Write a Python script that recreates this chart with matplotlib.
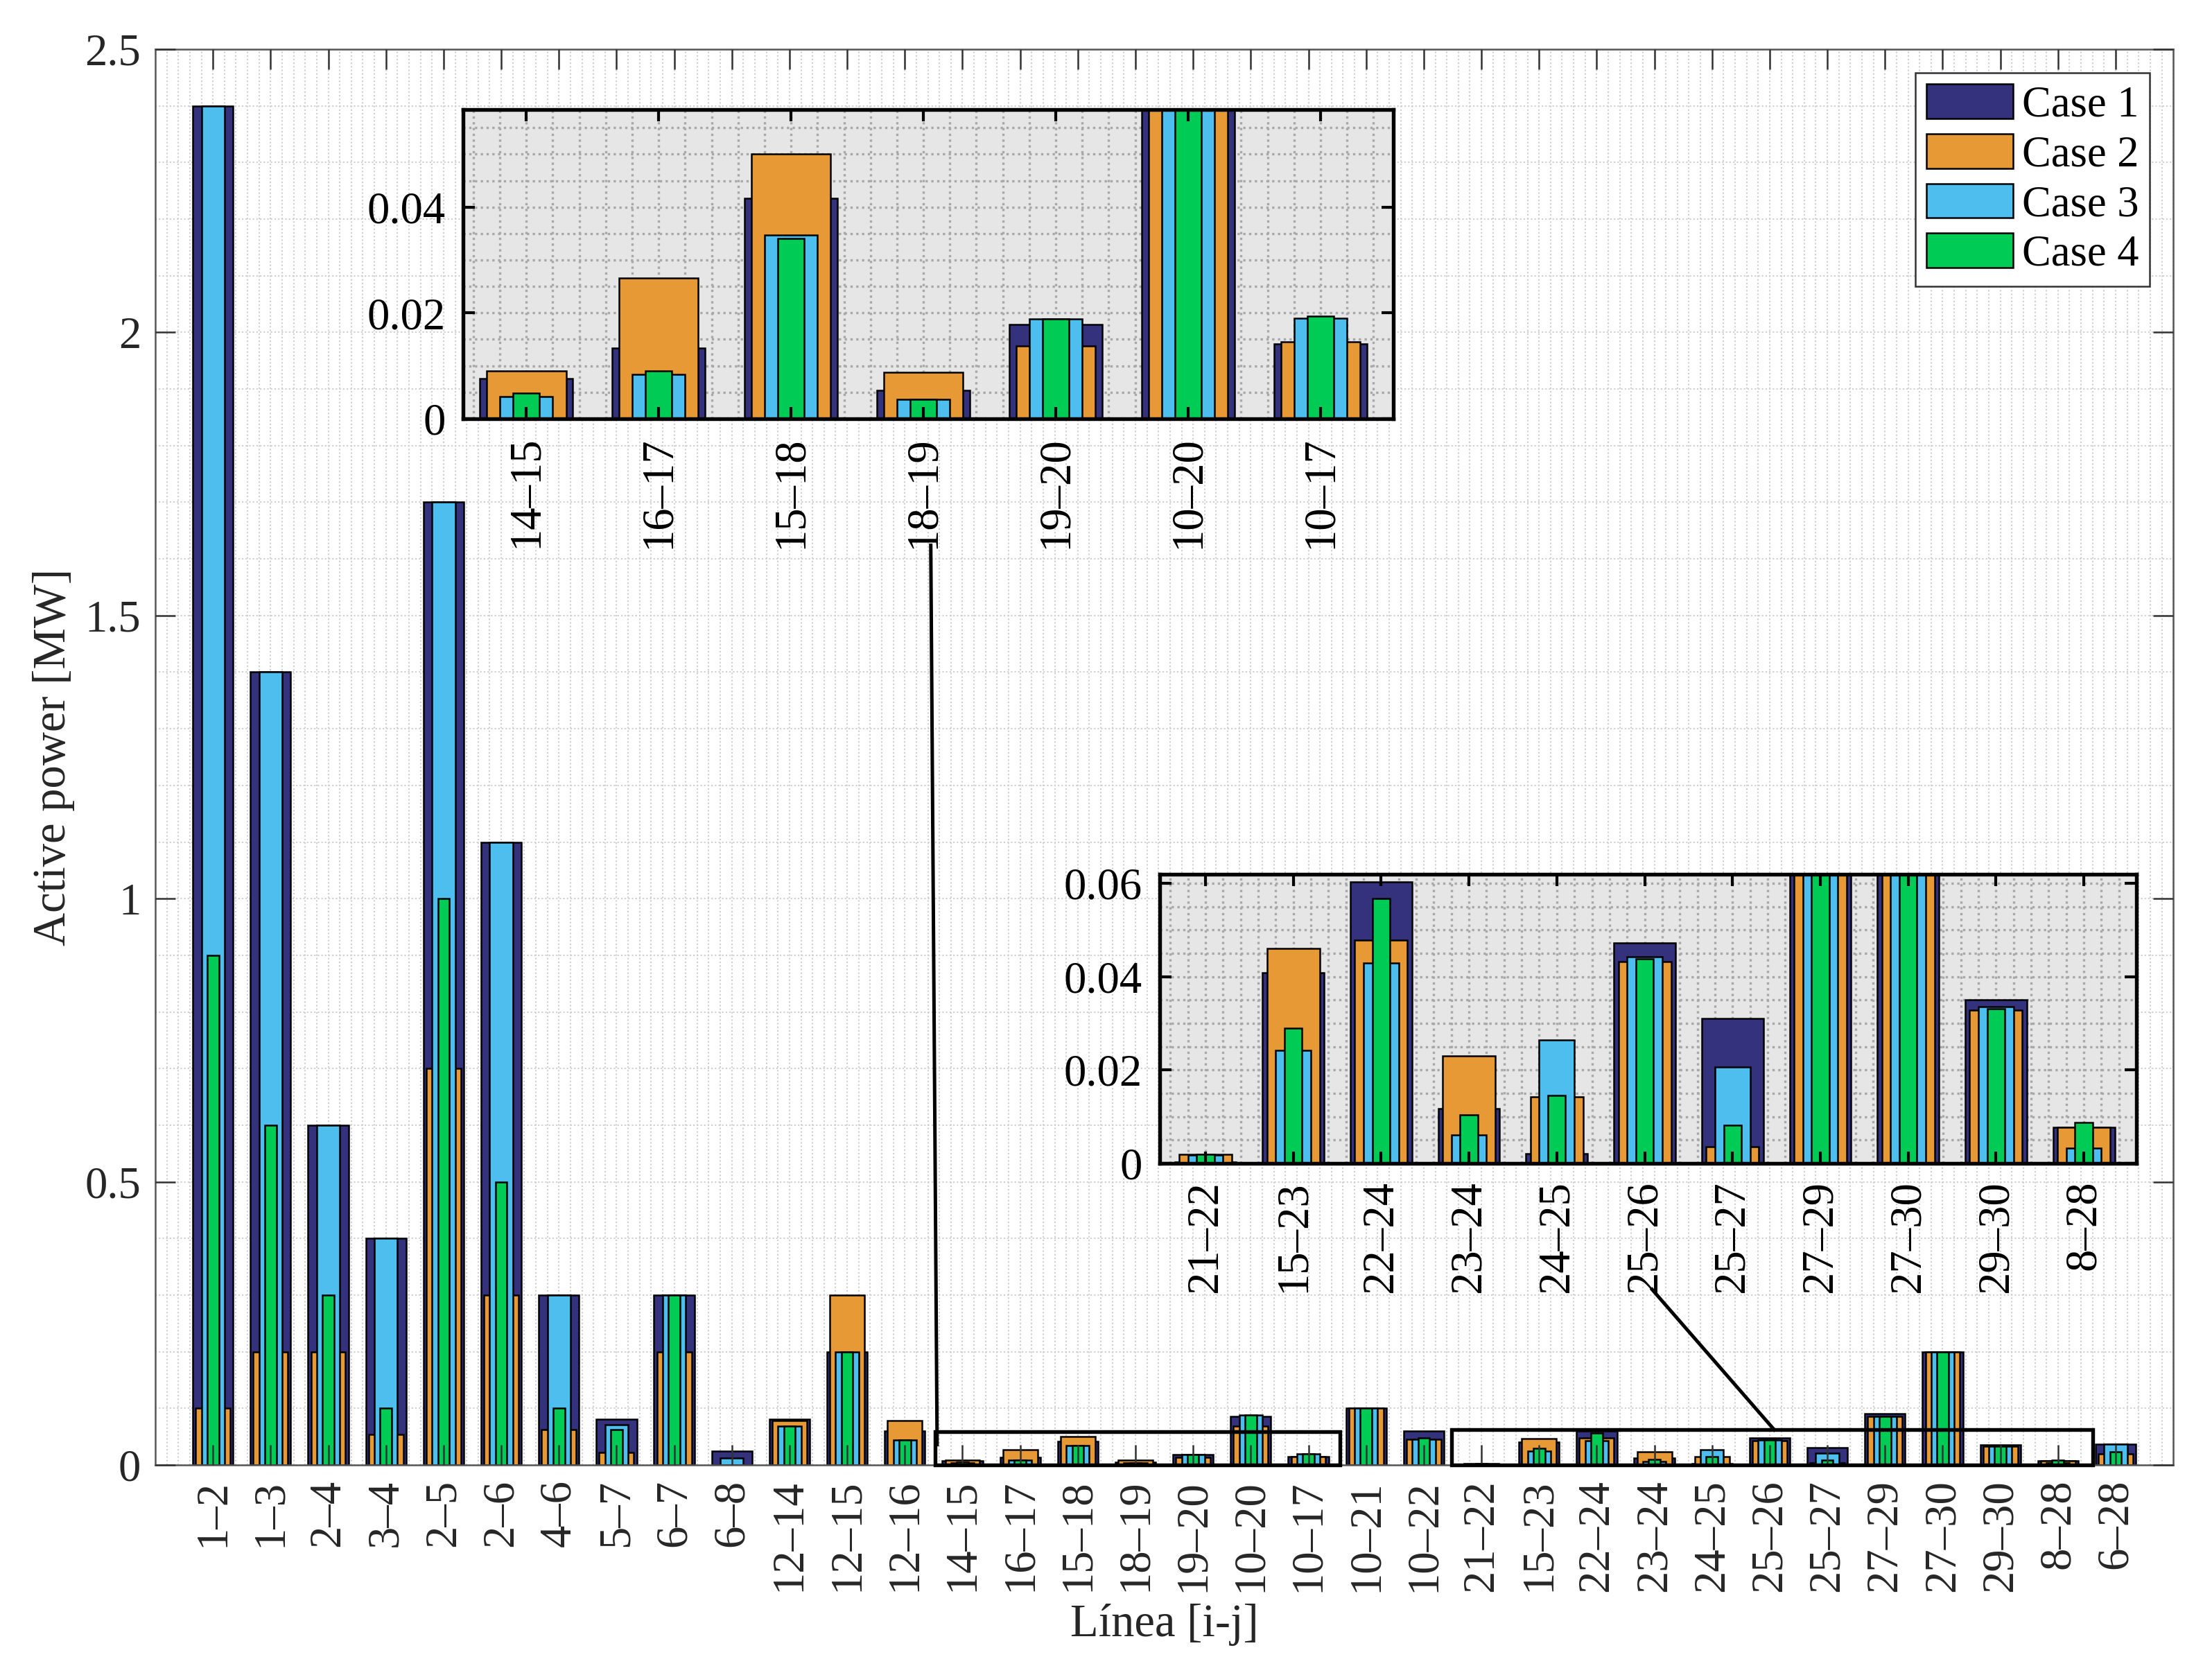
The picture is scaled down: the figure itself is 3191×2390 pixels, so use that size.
import numpy as np
import matplotlib.pyplot as plt
from matplotlib.patches import Rectangle
from matplotlib.ticker import FormatStrFormatter

plt.rcParams['font.family'] = ['Liberation Serif', 'DejaVu Serif']

# line labels (i-j)
lines = ['1–2', '1–3', '2–4', '3–4', '2–5', '2–6', '4–6', '5–7', '6–7', '6–8',
         '12–14', '12–15', '12–16', '14–15', '16–17', '15–18', '18–19', '19–20',
         '10–20', '10–17', '10–21', '10–22', '21–22', '15–23', '22–24', '23–24',
         '24–25', '25–26', '25–27', '27–29', '27–30', '29–30', '8–28', '6–28']

# active power per line [MW]
case1 = [2.4, 1.4, 0.6, 0.4, 1.7, 1.1, 0.3, 0.081, 0.3, 0.0245,
         0.081, 0.2, 0.06, 0.0076, 0.0134, 0.0417, 0.0054, 0.0178,
         0.0857, 0.0141, 0.1, 0.060, 0.0002, 0.0408, 0.0603, 0.0117,
         0.0021, 0.0472, 0.0311, 0.09, 0.2, 0.0351, 0.0077, 0.0367]
case2 = [0.1, 0.2, 0.2, 0.054, 0.7, 0.3, 0.063, 0.022, 0.2, 0.0,
         0.078, 0.3, 0.078, 0.009, 0.0266, 0.0501, 0.0088, 0.0138,
         0.068, 0.0145, 0.1, 0.0457, 0.0019, 0.046, 0.0479, 0.023,
         0.0143, 0.0433, 0.0036, 0.0857, 0.2, 0.0328, 0.0077, 0.0196]
case3 = [2.4, 1.4, 0.6, 0.4, 1.7, 1.1, 0.3, 0.071, 0.3, 0.012,
         0.069, 0.2, 0.044, 0.0042, 0.0084, 0.0347, 0.0037, 0.0188,
         0.088, 0.019, 0.1, 0.0457, 0.0017, 0.0242, 0.0429, 0.0061,
         0.0264, 0.0443, 0.0206, 0.086, 0.2, 0.0336, 0.0032, 0.0367]
case4 = [0.9, 0.6, 0.3, 0.1, 1.0, 0.5, 0.1, 0.063, 0.3, 0.0,
         0.069, 0.2, 0.044, 0.0048, 0.0091, 0.0341, 0.0037, 0.0188,
         0.088, 0.0194, 0.1, 0.048, 0.0019, 0.029, 0.0568, 0.0103,
         0.0145, 0.0438, 0.0081, 0.086, 0.2, 0.0331, 0.0087, 0.0229]

case_names = ['Case 1', 'Case 2', 'Case 3', 'Case 4']
case_colors = ['#34317D', '#E69935', '#4DBEEE', '#00CC55']
bar_widths = [0.7, 0.6, 0.4, 0.2]

# zoom windows shown in the insets
zoom_a_xlim = (13.52, 20.55)
zoom_a_ylim = (0, 0.0585)
zoom_b_xlim = (22.48, 33.6)
zoom_b_ylim = (0, 0.062)

# connector lines (main-axes data coords)
link_a = ([13.45, 13.56], [1.624, 0.036])
link_b = ([25.96, 28.08], [0.31, 0.062])

x = np.arange(1, len(lines) + 1)
all_cases = [case1, case2, case3, case4]


def draw_bars(ax, lw):
    for vals, c, w, name in zip(all_cases, case_colors, bar_widths, case_names):
        ax.bar(x, vals, width=w, color=c, edgecolor='black', linewidth=lw,
               label=name, zorder=1)


def grid_lines(ax, xlim, ylim, xstep, ystep, color, lw):
    for gx in np.arange(np.ceil(xlim[0] / xstep) * xstep, xlim[1] + 1e-9, xstep):
        ax.axvline(gx, color=color, lw=lw, ls=(0, (1, 1.5)), zorder=0.5)
    for gy in np.arange(ylim[0], ylim[1] + 1e-9, ystep):
        ax.axhline(gy, color=color, lw=lw, ls=(0, (1, 1.5)), zorder=0.5)


fig = plt.figure(figsize=(3191 / 300, 2390 / 300), dpi=300)
ax = fig.add_axes([0.0702, 0.1159, 0.9123, 0.8544])

grid_lines(ax, (0, 35), (0, 2.5), 0.2, 0.1, '#CFCFCF', 0.5)
draw_bars(ax, 0.6)
ax.set_xlim(0, 35)
ax.set_ylim(0, 2.5)
ax.set_xticks(x)
ax.set_xticklabels(lines, rotation=90)
ax.set_yticks(np.arange(0, 2.51, 0.5))
ax.yaxis.set_major_formatter(FormatStrFormatter('%g'))
ax.tick_params(direction='in', top=True, right=True, length=7, width=0.6,
               color='#333333', labelsize=15.5, labelcolor='#262626', pad=5)
for s in ax.spines.values():
    s.set_color('#555555')
    s.set_linewidth(0.6)
ax.set_axisbelow(False)

ax.set_xlabel('Línea [i-j]', fontsize=16, color='#262626')
ax.xaxis.set_label_coords(0.5, -0.098)
ax.set_ylabel('Active power [MW]', fontsize=16, color='#262626')
ax.yaxis.set_label_coords(-0.04, 0.5)

leg = ax.legend(loc='upper right', fontsize=15, fancybox=False, framealpha=1,
                edgecolor='#333333', borderaxespad=0.55, handlelength=2.0,
                handleheight=0.85, handletextpad=0.2, labelspacing=0.18,
                borderpad=0.25)
leg.get_frame().set_linewidth(0.6)

# outline of the zoomed regions and connector lines
for xl, yl in [(zoom_a_xlim, zoom_a_ylim), (zoom_b_xlim, zoom_b_ylim)]:
    ax.add_patch(Rectangle((xl[0], yl[0]), xl[1] - xl[0], yl[1] - yl[0],
                           fill=False, ec='black', lw=1.3, zorder=5, clip_on=False))
for lx, ly in [link_a, link_b]:
    ax.plot(lx, ly, color='black', lw=1.2, zorder=5)


def make_inset(rect, xlim, ylim, yticks):
    axin = fig.add_axes(rect)
    axin.set_facecolor('#E6E6E6')
    grid_lines(axin, xlim, ylim, 0.2, 0.005, '#A8A8A8', 0.8)
    draw_bars(axin, 0.6)
    axin.set_xlim(*xlim)
    axin.set_ylim(*ylim)
    idx = [i for i in x if xlim[0] < i < xlim[1]]
    axin.set_xticks(idx)
    axin.set_xticklabels([lines[i - 1] for i in idx], rotation=90)
    axin.set_yticks(yticks)
    axin.yaxis.set_major_formatter(FormatStrFormatter('%g'))
    axin.tick_params(direction='in', top=True, right=True, length=4, width=1.0,
                     color='black', labelsize=15.5, labelcolor='black', pad=6)
    for s in axin.spines.values():
        s.set_color('black')
        s.set_linewidth(1.3)
    axin.set_axisbelow(False)
    return axin


make_inset([0.2092, 0.7473, 0.4207, 0.1868], zoom_a_xlim, zoom_a_ylim, [0, 0.02, 0.04])
make_inset([0.5243, 0.2980, 0.4416, 0.1745], zoom_b_xlim, zoom_b_ylim, [0, 0.02, 0.04, 0.06])

fig.savefig('out.png', dpi=300)
